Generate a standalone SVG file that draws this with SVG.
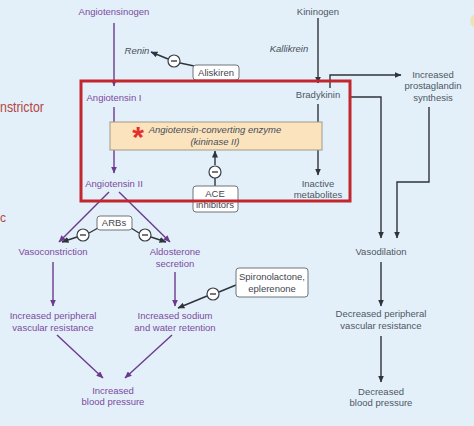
<svg xmlns="http://www.w3.org/2000/svg" width="474" height="426" viewBox="0 0 474 426">
<defs>
<marker id="ad" markerWidth="7" markerHeight="6" refX="6.5" refY="3" orient="auto" markerUnits="userSpaceOnUse"><path d="M0,0 L7,3 L0,6 Z" fill="#2f333a"/></marker>
<marker id="ap" markerWidth="7" markerHeight="6" refX="6.5" refY="3" orient="auto" markerUnits="userSpaceOnUse"><path d="M0,0 L7,3 L0,6 Z" fill="#6a3b8c"/></marker>
<style>
text{font-family:"Liberation Sans",Arial,sans-serif;font-size:9.5px;text-anchor:middle}
.p{fill:#7c4b9d}
.g{fill:#4f5762}
.i{font-style:italic;fill:#4a4f58}
.ld{stroke:#2f333a;stroke-width:1.4;fill:none}
.lp{stroke:#6a3b8c;stroke-width:1.4;fill:none}
.box{fill:#ffffff;stroke:#6f747b;stroke-width:1}
.min{fill:#ffffff;stroke:#3a3e45;stroke-width:1.2}
.bar{stroke:#3a3e45;stroke-width:1.4}
</style>
</defs>
<rect width="474" height="426" fill="#e3f0fa"/>
<circle cx="477" cy="21" r="7" fill="#f2dfa8" opacity="0.8"/>
<text x="0" y="112" style="text-anchor:start;font-size:14px;fill:#b4463f" textLength="44" lengthAdjust="spacingAndGlyphs">nstrictor</text>
<text x="0" y="222" style="text-anchor:start;font-size:12px;fill:#b4463f">c</text>

<g id="connectors">
<line class="lp" x1="114" y1="23" x2="114" y2="86" marker-end="url(#ap)"/>
<line class="lp" x1="114" y1="107" x2="114" y2="122"/>
<line class="lp" x1="114" y1="150" x2="114" y2="173" marker-end="url(#ap)"/>
<line class="ld" x1="318" y1="18" x2="318" y2="83" marker-end="url(#ad)"/>
<line class="ld" x1="318" y1="104" x2="318" y2="175" marker-end="url(#ad)"/>
<line class="ld" x1="168" y1="59" x2="151" y2="52" marker-end="url(#ad)"/>
<line class="ld" x1="180" y1="63" x2="199" y2="67"/>
<line class="ld" x1="215" y1="165" x2="215" y2="151" marker-end="url(#ad)"/>
<line class="ld" x1="215" y1="178" x2="215" y2="186"/>
<polyline class="ld" points="330,88 330,75 401,75" marker-end="url(#ad)"/>
<polyline class="ld" points="351,97 381,97 381,238" marker-end="url(#ad)"/>
<polyline class="ld" points="429,107 429,182 397,182 397,238" marker-end="url(#ad)"/>
<line class="ld" x1="381" y1="262" x2="381" y2="306" marker-end="url(#ad)"/>
<line class="ld" x1="381" y1="336" x2="381" y2="382" marker-end="url(#ad)"/>
<line class="lp" x1="109" y1="192" x2="59" y2="242" marker-end="url(#ap)"/>
<line class="lp" x1="119" y1="192" x2="170" y2="242" marker-end="url(#ap)"/>
<polyline class="ld" points="98,228 89,233" />
<line class="ld" x1="77" y1="237" x2="62" y2="242" marker-end="url(#ad)"/>
<polyline class="ld" points="131,228 139,233" />
<line class="ld" x1="151" y1="237" x2="166" y2="242" marker-end="url(#ad)"/>
<line class="lp" x1="53" y1="262" x2="53" y2="306" marker-end="url(#ap)"/>
<line class="lp" x1="175" y1="272" x2="175" y2="306" marker-end="url(#ap)"/>
<line class="ld" x1="236" y1="285" x2="219" y2="292"/>
<line class="ld" x1="207" y1="296" x2="178" y2="308" marker-end="url(#ad)"/>
<line class="lp" x1="57" y1="335" x2="103" y2="378" marker-end="url(#ap)"/>
<line class="lp" x1="172" y1="335" x2="125" y2="378" marker-end="url(#ap)"/>
</g>

<g id="inhibition-marks">
<circle class="min" cx="174" cy="61" r="6"/><line class="bar" x1="171" y1="61" x2="177" y2="61"/>
<circle class="min" cx="215" cy="172" r="6"/><line class="bar" x1="212" y1="172" x2="218" y2="172"/>
<circle class="min" cx="83" cy="235" r="6"/><line class="bar" x1="80" y1="235" x2="86" y2="235"/>
<circle class="min" cx="145" cy="235" r="6"/><line class="bar" x1="142" y1="235" x2="148" y2="235"/>
<circle class="min" cx="213" cy="294" r="6"/><line class="bar" x1="210" y1="294" x2="216" y2="294"/>
</g>

<g id="angiotensinogen"><text class="p" x="114" y="15">Angiotensinogen</text></g>
<g id="renin"><text class="i" x="137" y="54">Renin</text></g>
<g id="aliskiren"><rect class="box" x="193" y="65" width="46" height="15" rx="3"/><text class="g" x="216" y="76" style="fill:#3f454d">Aliskiren</text></g>
<g id="kininogen"><text class="g" x="318" y="15">Kininogen</text></g>
<g id="kallikrein"><text class="i" x="289" y="52">Kallikrein</text></g>
<g id="angiotensin-i"><text class="p" x="114" y="101">Angiotensin I</text></g>
<g id="bradykinin"><text class="g" x="318" y="98">Bradykinin</text></g>
<g id="prostaglandin"><text class="g" x="433" y="78">Increased</text><text class="g" x="433" y="89">prostaglandin</text><text class="g" x="433" y="101">synthesis</text></g>
<g id="ace-enzyme">
<rect x="110" y="122" width="212" height="28" fill="#fae3bd" stroke="#a39a8a" stroke-width="1"/>
<text x="138" y="147" style="font-size:30px;font-weight:bold;fill:#e4302a">*</text>
<text class="i" x="215" y="133">Angiotensin-converting enzyme</text>
<text class="i" x="215" y="145">(kininase II)</text>
</g>
<g id="angiotensin-ii"><text class="p" x="114" y="187">Angiotensin II</text></g>
<g id="inactive-metabolites"><text class="g" x="318" y="187">Inactive</text><text class="g" x="318" y="198">metabolites</text></g>
<g id="ace-inhibitors"><rect class="box" x="193" y="186" width="45" height="26" rx="3"/><text class="g" x="215" y="197" style="fill:#3f454d">ACE</text><text class="g" x="215" y="208" style="fill:#3f454d">inhibitors</text></g>
<g id="ras-box"><rect x="81" y="81" width="269" height="120" fill="none" stroke="#c1272d" stroke-width="3"/></g>
<g id="arbs"><rect class="box" x="97" y="216" width="35" height="14" rx="3"/><text class="g" x="114" y="226" style="fill:#3f454d">ARBs</text></g>
<g id="vasoconstriction"><text class="p" x="53" y="255">Vasoconstriction</text></g>
<g id="aldosterone"><text class="p" x="175" y="255">Aldosterone</text><text class="p" x="175" y="267">secretion</text></g>
<g id="spironolactone"><rect class="box" x="236" y="268" width="72" height="29" rx="3"/><text class="g" x="272" y="280" style="fill:#3f454d">Spironolactone,</text><text class="g" x="272" y="292" style="fill:#3f454d">eplerenone</text></g>
<g id="inc-pvr"><text class="p" x="53" y="319">Increased peripheral</text><text class="p" x="53" y="331">vascular resistance</text></g>
<g id="inc-sodium"><text class="p" x="175" y="319">Increased sodium</text><text class="p" x="175" y="331">and water retention</text></g>
<g id="inc-bp"><text class="p" x="113" y="394">Increased</text><text class="p" x="113" y="405">blood pressure</text></g>
<g id="vasodilation"><text class="g" x="381" y="255">Vasodilation</text></g>
<g id="dec-pvr"><text class="g" x="381" y="317">Decreased peripheral</text><text class="g" x="381" y="329">vascular resistance</text></g>
<g id="dec-bp"><text class="g" x="381" y="395">Decreased</text><text class="g" x="381" y="406">blood pressure</text></g>
</svg>
